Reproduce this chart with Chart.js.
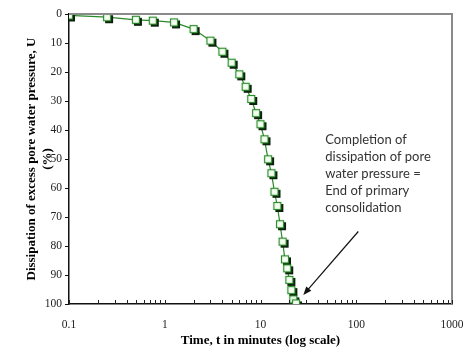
<!DOCTYPE html>
<html>
<head>
<meta charset="utf-8">
<script src="https://cdn.jsdelivr.net/npm/chart.js@4/dist/chart.umd.min.js"></script>
<style>
  html, body { margin: 0; padding: 0; background: #fff; }
  #contenedor { width: 474px; height: 359px; }
</style>
</head>
<body>
<div id="contenedor"><canvas id="chartDisipacion"></canvas></div>
<script>
// Datos (tiempo en minutos, disipacion U en %)
const tiempos = [0.1, 0.25, 0.5, 0.75, 1.25, 2, 3, 4, 5, 6, 7, 8, 9, 10, 11, 12, 13, 14, 15, 16, 17, 18, 19, 20, 21, 22, 23.5];
const disipacion = [0.5, 1.1, 2.0, 2.3, 2.9, 5.2, 9.2, 13.0, 16.8, 20.8, 25.1, 29.3, 34.2, 38.0, 43.2, 50.1, 54.9, 61.3, 66.2, 72.5, 78.5, 84.6, 87.7, 91.7, 95.2, 98.4, 99.8];

// Marcas del eje x (log) y del eje y
const marcasX = [0.1, 0.2, 0.3, 0.4, 0.5, 0.6, 0.7, 0.8, 0.9, 1, 2, 3, 4, 5, 6, 7, 8, 9, 10, 20, 30, 40, 50, 60, 70, 80, 90, 100, 200, 300, 400, 500, 600, 700, 800, 900, 1000];
const etiquetasX = [0.1, 1, 10, 100, 1000];
const marcasY = [0, 10, 20, 30, 40, 50, 60, 70, 80, 90, 100];

// Nota y flecha (en coordenadas de datos)
const notaTexto = ['Completion of', 'dissipation of pore', 'water pressure =', 'End of primary', 'consolidation'];
const notaPos = [47.5, 43.4];
const flechaDesde = [105, 75];
const flechaHasta = [28, 96.9];

// Marcador: cuadro blanco con borde verde y sombra negra
function crearMarcador() {
    const c = document.createElement('canvas');
    c.width = 16; c.height = 16;
    const g = c.getContext('2d');
    g.fillStyle = '#0b1f0b';
    g.fillRect(6, 6, 8, 8);
    g.fillStyle = '#f4fff2';
    g.fillRect(4, 4, 8, 8);
    g.strokeStyle = '#2a8a2a';
    g.lineWidth = 1.2;
    g.strokeRect(4.5, 4.5, 7, 7);
    return c;
}

const pluginExtras = {
    id: 'extras',
    afterDraw(chart) {
        const { ctx, chartArea: a, scales: { x, y } } = chart;
        ctx.save();
        // borde superior y derecho
        ctx.strokeStyle = '#8a8a8a';
        ctx.lineWidth = 2;
        ctx.beginPath();
        ctx.moveTo(a.left, a.top);
        ctx.lineTo(a.right, a.top);
        ctx.lineTo(a.right, a.bottom);
        ctx.stroke();
        // marcas interiores del eje x
        ctx.strokeStyle = '#222';
        ctx.lineWidth = 1;
        ctx.beginPath();
        marcasX.forEach(v => {
            const px = Math.round(x.getPixelForValue(v)) + 0.5;
            ctx.moveTo(px, a.bottom);
            ctx.lineTo(px, a.bottom - 4);
        });
        ctx.stroke();
        // nota
        ctx.fillStyle = '#333';
        ctx.font = '13px Lato';
        ctx.textBaseline = 'middle';
        const tx = x.getPixelForValue(notaPos[0]);
        const ty = y.getPixelForValue(notaPos[1]);
        notaTexto.forEach((t, i) => ctx.fillText(t, tx, ty + i * 17));
        // flecha
        const x1 = x.getPixelForValue(flechaDesde[0]), y1 = y.getPixelForValue(flechaDesde[1]);
        const x2 = x.getPixelForValue(flechaHasta[0]), y2 = y.getPixelForValue(flechaHasta[1]);
        const ang = Math.atan2(y2 - y1, x2 - x1);
        ctx.strokeStyle = '#111';
        ctx.lineWidth = 1.2;
        ctx.beginPath();
        ctx.moveTo(x1, y1);
        ctx.lineTo(x2 - 6 * Math.cos(ang), y2 - 6 * Math.sin(ang));
        ctx.stroke();
        ctx.fillStyle = '#111';
        ctx.beginPath();
        ctx.moveTo(x2, y2);
        ctx.lineTo(x2 - 9 * Math.cos(ang - 0.38), y2 - 9 * Math.sin(ang - 0.38));
        ctx.lineTo(x2 - 9 * Math.cos(ang + 0.38), y2 - 9 * Math.sin(ang + 0.38));
        ctx.closePath();
        ctx.fill();
        ctx.restore();
    }
};

const ctx = document.getElementById('chartDisipacion').getContext('2d');
new Chart(ctx, {
    type: 'line',
    data: {
        datasets: [{
            data: tiempos.map((t, i) => ({ x: t, y: disipacion[i] })),
            borderColor: '#2a8a2a',
            borderWidth: 1.2,
            pointStyle: crearMarcador(),
            pointRadius: 4,
            tension: 0,
            fill: false
        }]
    },
    options: {
        responsive: true,
        maintainAspectRatio: false,
        animation: false,
        layout: { padding: { top: 14, right: 22, left: 0, bottom: 0 } },
        plugins: { legend: { display: false }, tooltip: { enabled: false } },
        scales: {
            x: {
                type: 'logarithmic',
                min: 0.1,
                max: 1000,
                afterBuildTicks: s => { s.ticks = marcasX.map(v => ({ value: v })); },
                afterFit: s => { s.height = 55; },
                grid: { display: false },
                border: { color: '#111', width: 1.5 },
                ticks: {
                    autoSkip: false,
                    maxRotation: 0,
                    padding: 6,
                    color: '#222',
                    font: { family: 'Liberation Serif', size: 11.5 },
                    callback: v => etiquetasX.includes(v) ? String(v) : ''
                },
                title: {
                    display: true,
                    text: 'Time, t in minutes (log scale)',
                    color: '#000',
                    font: { family: 'Liberation Serif', size: 13, weight: 'bold' },
                    padding: { top: 0, bottom: 11 }
                }
            },
            y: {
                reverse: true,
                min: 0,
                max: 100,
                afterBuildTicks: s => { s.ticks = marcasY.map(v => ({ value: v })); },
                afterFit: s => { s.width = 69; },
                grid: { drawOnChartArea: false, tickLength: 4, color: '#111' },
                border: { color: '#111', width: 1.5 },
                ticks: {
                    padding: 3,
                    color: '#222',
                    font: { family: 'Liberation Serif', size: 11.5 }
                },
                title: {
                    display: true,
                    text: ['Dissipation of excess pore water pressure, U', '(%)'],
                    color: '#000',
                    font: { family: 'Liberation Serif', size: 13, weight: 'bold' },
                    padding: { top: 24, bottom: 0 }
                }
            }
        }
    },
    plugins: [pluginExtras]
});
</script>
</body>
</html>
